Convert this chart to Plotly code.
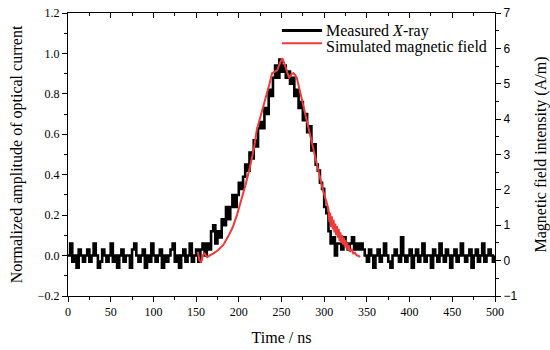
import plotly.graph_objects as go

# ---------------- data ----------------
DT_BLACK = 2.5  # ns, sampling interval of measured trace
Q = 0.03        # quantisation step of the measured trace

# baseline before pulse (in quantisation steps), t = 0 ... 152.5
BASE_PRE = [0, 2, -1, 0, -2, 1, 0, -1, 0, 1, -1, 0, 2, 0, -2, -1, 1, 0, -1, 0,
            2, -1, 0, -2, 0, 1, -1, 0, 0, -2, 1, 2, 0, -1, 0, 1, -2, 0, -1, 2,
            0, -1, 0, 1, -2, 0, -1, 0, 1, 2, -1, 0, -2, 0, 1, -1, 0, 2, -1, 0,
            1, -1]
# pulse (normalized amplitude), t = 155 ... 315
PULSE = [0.03, 0.06, 0.0, 0.06, 0.03, 0.12, 0.15, 0.06, 0.12, 0.09,
         0.18, 0.15, 0.24, 0.18, 0.24, 0.30, 0.24, 0.30, 0.36, 0.33,
         0.39, 0.45, 0.42, 0.51, 0.48, 0.57, 0.54, 0.63, 0.66, 0.63,
         0.73, 0.70, 0.82, 0.79, 0.88, 0.94, 0.88, 0.97, 0.91, 0.94,
         0.88, 0.91, 0.85, 0.88, 0.79, 0.82, 0.73, 0.76, 0.67, 0.70,
         0.61, 0.64, 0.52, 0.55, 0.45, 0.42, 0.36, 0.33, 0.24, 0.21,
         0.12, 0.06, 0.09, 0.0, 0.06]
# baseline after pulse (in quantisation steps), t = 317.5 ... 500
BASE_POST = [2, 1, 3, 2, 1, 2, 3, 1, 2, 1, 2, 1,
             0, -1, 1, 0, -2, 0, 1, -1, 0, 2, 0, -1, -2, 0, 1, 0, -1, 3, 0, -1,
             0, 1, -2, 0, 1, -1, 0, 2, -1, 0, 0, -2, 1, 0, -1, 2, 0, -1, 1, 0,
             -2, 0, 1, -1, 0, 2, 0, -1, 0, 1, -2, 0, 1, -1, 0, 2, -1, 0, 1, 0,
             -1, 0]

# simulated magnetic field (A/m)
RED_T = [152, 154, 156, 158, 160, 163, 166, 170, 176, 182, 188, 193, 198, 203,
         208, 213, 218, 221, 224, 227, 230, 233, 236, 239, 242, 245, 248, 251,
         253, 256, 259, 262, 264, 266, 268, 271, 274, 277, 280, 284, 287, 291,
         295, 299, 303, 305, 306, 307, 308, 309, 310, 311, 312, 313, 314, 315,
         316, 317, 318, 319, 320, 321, 322, 323, 324, 325, 326, 327, 328, 329,
         330, 332, 334, 336, 338, 340, 342]
RED_V = [0.25, 0.0, -0.05, 0.15, 0.2, 0.1, 0.15, 0.2, 0.3, 0.45, 0.7, 0.95, 1.3,
         1.71, 2.15, 2.64, 3.2, 3.69, 3.95, 4.17, 4.45, 4.73, 5.0, 5.3, 5.35,
         5.38, 5.58, 5.72, 5.6, 5.38, 5.16, 5.28, 5.3, 5.25, 5.16, 4.85, 4.54,
         4.25, 3.97, 3.55, 3.21, 2.75, 2.36, 1.95, 1.63, 1.45, 1.1, 1.35, 0.95,
         1.25, 0.88, 1.15, 0.8, 1.05, 0.72, 0.98, 0.65, 0.9, 0.55, 0.8, 0.5,
         0.72, 0.45, 0.65, 0.4, 0.58, 0.35, 0.5, 0.3, 0.43, 0.25, 0.33, 0.2,
         0.22, 0.15, 0.14, 0.1]

X_TICKS = [0, 50, 100, 150, 200, 250, 300, 350, 400, 450, 500]
NAMES = ["Measured <i>X</i>-ray", "Simulated magnetic field"]
COLORS = ["black", "#f03a3a"]

# ---------------- build series ----------------
black_v = [q * Q for q in BASE_PRE] + PULSE + [q * Q for q in BASE_POST]
black_t = [i * DT_BLACK for i in range(len(black_v))]

SERIF = "Liberation Serif"
SANS = "Liberation Sans"

fig = go.Figure()
fig.add_trace(go.Scatter(x=black_t, y=black_v, mode="lines", line_shape="hv",
                         line=dict(color=COLORS[0], width=2.6),
                         name=NAMES[0], yaxis="y", showlegend=False))
fig.add_trace(go.Scatter(x=RED_T, y=RED_V, mode="lines",
                         line=dict(color=COLORS[1], width=2),
                         name=NAMES[1], yaxis="y2", showlegend=False))
fig.add_trace(go.Scatter(x=[None], y=[None], xaxis="x2", yaxis="y",
                         showlegend=False, hoverinfo="skip"))

axis_common = dict(showline=True, linecolor="black", linewidth=1,
                   showgrid=False, zeroline=False, ticks="outside",
                   tickcolor="black", ticklen=5, tickwidth=1, automargin=False)

# manual legend (paper coordinates)
leg_rows = [0.938, 0.893]
leg_text_rows = [0.938, 0.880]
for name, col, yl, yt, w in zip(NAMES, COLORS, leg_rows, leg_text_rows, [3, 2]):
    fig.add_shape(type="line", xref="paper", yref="paper",
                  x0=0.501, x1=0.595, y0=yl, y1=yl,
                  line=dict(color=col, width=w))
    fig.add_annotation(xref="paper", yref="paper", x=0.600, y=yt,
                       xanchor="left", yanchor="middle", showarrow=False,
                       text=name, font=dict(family=SERIF, size=16, color="black"))

fig.update_layout(
    width=550, height=350,
    margin=dict(l=68, r=55, t=13, b=54, autoexpand=False),
    plot_bgcolor="white", paper_bgcolor="white",
    font=dict(family=SERIF, size=12, color="black"),
    xaxis=dict(range=[0, 500], tickvals=X_TICKS,
               tickfont=dict(family=SERIF, size=12),
               minor=dict(dtick=25, ticklen=3, ticks="outside", tickcolor="black"),
               title=dict(text="Time / ns", font=dict(size=16, family=SERIF), standoff=13),
               **axis_common),
    xaxis2=dict(range=[0, 500], overlaying="x", side="top", showticklabels=False,
                showline=True, linecolor="black", linewidth=1, showgrid=False,
                zeroline=False, ticks="inside", ticklen=5, tickcolor="black",
                tickvals=X_TICKS, automargin=False,
                minor=dict(dtick=25, ticklen=3, ticks="inside", tickcolor="black")),
    yaxis=dict(range=[-0.2, 1.2], dtick=0.2, tickformat=".1f",
               tickfont=dict(family=SERIF, size=12),
               minor=dict(dtick=0.1, ticklen=3, ticks="outside", tickcolor="black"),
               title=dict(text="Normalized amplitude of optical current",
                          font=dict(size=16, family=SERIF), standoff=11),
               **axis_common),
    yaxis2=dict(range=[-1, 7], dtick=1, overlaying="y", side="right",
                tickfont=dict(family=SANS, size=12),
                minor=dict(dtick=0.5, ticklen=3, ticks="outside", tickcolor="black"),
                title=dict(text="Magnetic field intensity (A/m)",
                           font=dict(size=16, family=SERIF), standoff=24),
                **axis_common),
    showlegend=False,
)

fig.write_html("out.html",
               config={"displayModeBar": False},
               post_script="document.body.style.margin='0px';"
                           "document.body.style.padding='0px';")
